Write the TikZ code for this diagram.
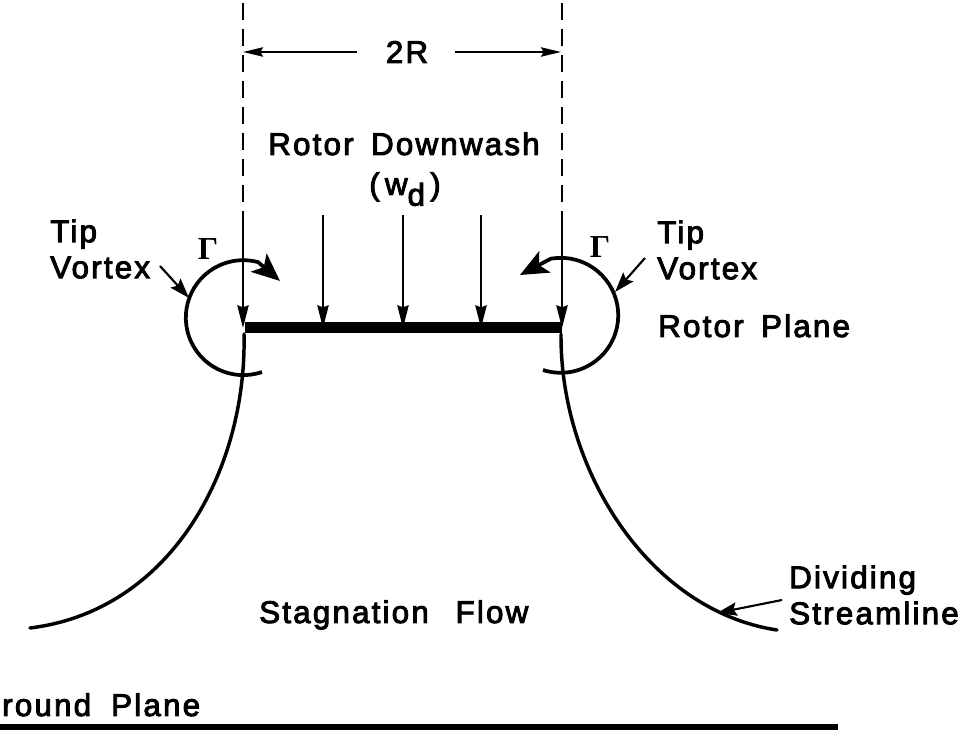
\documentclass[tikz,border=0pt]{standalone}
\usepackage{fontspec}
\setmainfont[LetterSpace=7,WordSpace=1.6,FakeBold=3]{Liberation Sans}
\newfontfamily\gammafont{Liberation Serif}
\usetikzlibrary{arrows.meta, positioning}
\tikzset{
    lbl/.style={inner sep=0pt, font=\fontsize{23.5}{27}\selectfont, align=left},
    guide/.style={line width=1.5pt, dash pattern=on 12.75pt off 6.75pt},
    flowarrow/.style={line width=1.4pt, -{Stealth[length=17pt, width=8.5pt, inset=1.5pt]}},
    pointer/.style={line width=1.6pt, -{Stealth[length=15pt, width=10pt, inset=2.5pt]}},
    dimarrow/.style={line width=1.6pt, -{Stealth[length=15pt, width=7pt, inset=2pt]}},
    vortex/.style={line width=2.8pt, -{Stealth[length=21pt, width=18pt, inset=5pt]}},
    streamline/.style={line width=2.6pt, line cap=round}
}
\begin{document}
\begin{tikzpicture}[x=0.75pt, y=0.75pt]
    \useasboundingbox (0,0) rectangle (968,741);

    % Rotor edges
    \coordinate (topL) at (243,738);
    \coordinate (midL) at (243,524);
    \coordinate (hubL) at (243,413);
    \coordinate (topR) at (562,738);
    \coordinate (midR) at (562,524);
    \coordinate (hubR) at (562,413);
    \draw[guide] (topL) -- (midL);
    \draw[guide] (topR) -- (midR);
    \draw[flowarrow] (midL) -- (hubL);
    \draw[flowarrow] (midR) -- (hubR);

    % Rotor plane
    \coordinate (barL) at (245,413);
    \coordinate (barR) at (562,413);
    \draw[line width=8.25pt] (barL) -- (barR);

    % Downwash arrows
    \foreach \i in {323, 403, 481} {
        \coordinate (top\i) at (\i,526);
        \coordinate (foot\i) at (\i,413);
        \draw[flowarrow] (top\i) -- (foot\i);
    }

    % Width of the rotor
    \node[lbl] (width) at (407,689) {2R};
    \coordinate (dimL) at (243,689);
    \coordinate (dimR) at (561,689);
    \coordinate (gapL) at (357,689);
    \coordinate (gapR) at (455,689);
    \draw[dimarrow] (gapL) -- (dimL);
    \draw[dimarrow] (gapR) -- (dimR);

    % Tip vortices
    \coordinate (startL) at (262,369);
    \coordinate (tipL) at (280,460);
    \coordinate (startR) at (543,371);
    \coordinate (tipR) at (520,466);
    \draw[vortex] (startL) arc[start angle=289, end angle=75, radius=43.1pt] -- (tipL);
    \draw[vortex] (startR) arc[start angle=-108, end angle=100, radius=43.1pt] -- (tipR);

    % Dividing streamlines
    \coordinate (edgeL) at (244,407);
    \coordinate (endL) at (30,113);
    \coordinate (edgeR) at (561,407);
    \coordinate (endR) at (777,111);
    \draw[streamline] (edgeL) .. controls (247,270) and (170,130) .. (endL);
    \draw[streamline] (edgeR) .. controls (560,270) and (650,130) .. (endR);

    % Ground plane
    \coordinate (groundL) at (0,14);
    \coordinate (groundR) at (838,14);
    \draw[line width=4.5pt] (groundL) -- (groundR);

    % Labels
    \node[lbl, anchor=base] (downwash) at (404,586) {Rotor Downwash};
    \node[lbl, anchor=base] (wd) at (405,546) {(\,w\raisebox{-8pt}{d}\,)};
    \node[lbl, anchor=base west] (plane) at (658,404) {Rotor Plane};
    \node[lbl, anchor=base west] (stagnation) at (259,118) {Stagnation\hspace{7pt} Flow};
    \node[lbl, anchor=base west] (ground) at (2,25) {round\hspace{2pt} Plane};
    \node[lbl, anchor=west] (vortexL) at (50,492) {Tip\\Vortex};
    \node[lbl, anchor=west] (vortexR) at (657,491) {Tip\\Vortex};
    \node[lbl, anchor=west] (dividing) at (789,146) {Dividing\\Streamline};
    \node[inner sep=0pt] (gammaL) at (208,492) {\fontsize{24}{24}\selectfont\gammafont\bfseries Γ};
    \node[inner sep=0pt] (gammaR) at (600,494) {\fontsize{24}{24}\selectfont\gammafont\bfseries Γ};

    % Pointers
    \coordinate (ptrL) at (160,475);
    \coordinate (hitL) at (189,443);
    \coordinate (ptrR) at (645,483);
    \coordinate (hitR) at (615,449);
    \coordinate (ptrS) at (782,141);
    \coordinate (hitS) at (717,128);
    \draw[pointer] (ptrL) -- (hitL);
    \draw[pointer] (ptrR) -- (hitR);
    \draw[pointer] (ptrS) -- (hitS);

\end{tikzpicture}
\end{document}
